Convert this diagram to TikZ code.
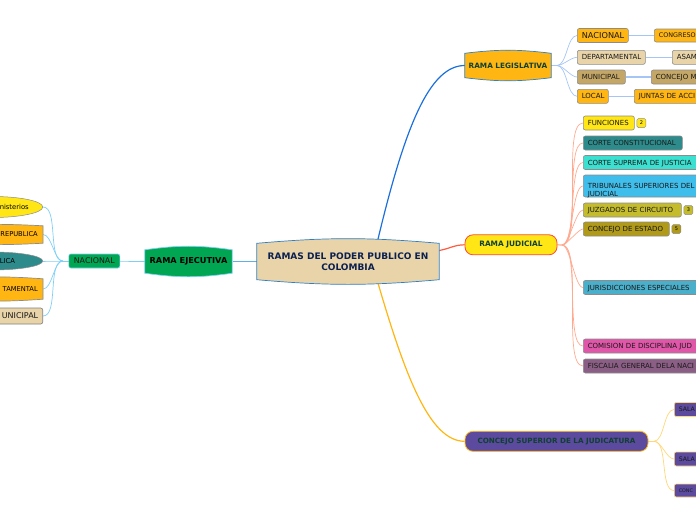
\documentclass[tikz,border=0pt]{standalone}
\usepackage{fontspec}
\setmainfont{DejaVu Sans}
\usetikzlibrary{positioning, shapes.geometric, backgrounds}

\definecolor{sand}{HTML}{E8D4A8}
\definecolor{amber}{HTML}{FFB612}
\definecolor{leafgreen}{HTML}{00A651}
\definecolor{lemon}{HTML}{FFE614}
\definecolor{teal1}{HTML}{2E8B8B}
\definecolor{turq}{HTML}{3CE0D0}
\definecolor{sky}{HTML}{3FBDEB}
\definecolor{olive1}{HTML}{C4BC2D}
\definecolor{olive2}{HTML}{B09A18}
\definecolor{steel}{HTML}{4AAFCB}
\definecolor{pink1}{HTML}{E056A8}
\definecolor{plum}{HTML}{8B5F85}
\definecolor{violet1}{HTML}{5B4A9E}
\definecolor{khaki}{HTML}{C4A766}
\definecolor{navy}{HTML}{0B2050}
\definecolor{pine}{HTML}{0F4030}
\definecolor{rimblue}{HTML}{2F7FC8}
\definecolor{legblue}{HTML}{1A6FDD}
\definecolor{skyline}{HTML}{7FD0F5}
\definecolor{legline}{HTML}{A5C6F5}
\definecolor{judline}{HTML}{FFAA90}
\definecolor{supline}{HTML}{FFD778}

\tikzset{
	leaf/.style 2 args={draw=black!45, line width=0.6pt, rounded corners=2pt, fill=#2, text=black!90,
		font=\fontsize{7}{8.2}\selectfont, anchor=west, inner sep=0pt, inner xsep=4.5pt, text depth=0pt,
		minimum height=14pt, minimum width=#1, text width=#1-9pt, align=left},
	barrel/.style 2 args={inner sep=0pt, minimum width=#1, minimum height=#2, align=center},
	pill/.style={draw=#1, line width=0.8pt, rounded corners=8pt, inner sep=0pt, minimum height=20pt},
	badge/.style={draw=black!45, line width=0.5pt, rounded corners=1.5pt, fill=#1, inner sep=0pt,
		minimum size=9pt, font=\fontsize{5}{5}\selectfont},
	lens/.style={ellipse, draw=black!45, fill=#1, line width=0.5pt, minimum width=100pt, inner sep=0pt,
		font=\fontsize{6.8}{8}\selectfont},
	branch/.style={draw=#1, line width=1.2pt},
	twig/.style={draw=#1, line width=0.7pt}
}

\begin{document}
\begin{tikzpicture}[x=1pt,y=-1pt]
	\useasboundingbox (0,0) rectangle (696,520);
	\clip (0,0) rectangle (696,520);

	%Zentrum
	\node (poder) [barrel={182pt}{36pt}, text=navy, font=\fontsize{9}{11.5}\selectfont\bfseries] at (348,261.5) {RAMAS DEL PODER PUBLICO EN\\COLOMBIA};

	%Rama legislativa
	\node (legis) [barrel={86pt}{24pt}, text=pine, font=\fontsize{7.3}{8}\selectfont\bfseries] at (508,65.5) {RAMA LEGISLATIVA};
	\node (lnac) [leaf={51pt}{amber}, font=\fontsize{8.2}{9}\selectfont] at (577,35.5) {NACIONAL};
	\node (ldep) [leaf={68pt}{sand}] at (577,57.3) {DEPARTAMENTAL};
	\node (lmun) [leaf={48pt}{khaki}] at (577,77) {MUNICIPAL};
	\node (lloc) [leaf={31pt}{amber}] at (577,96.3) {LOCAL};
	\node (lcon) [leaf={80pt}{amber}, minimum height=13pt, font=\fontsize{6.4}{8}\selectfont] at (654,35.5) {CONGRESO};
	\node (lasa) [leaf={60pt}{sand}] at (672,57.3) {ASAM};
	\node (lcmu) [leaf={80pt}{khaki}] at (651,77) {CONCEJO M};
	\node (ljun) [leaf={100pt}{amber}] at (634,96.3) {JUNTAS DE ACCI};

	%Rama judicial
	\node (judi) [pill=orange!20!red!80, fill=lemon, text=pine, minimum width=92pt, font=\fontsize{7.4}{8}\selectfont\bfseries] at (511,244.8) {RAMA JUDICIAL};
	\node (jfun) [leaf={51pt}{lemon}] at (583,123) {FUNCIONES};
	\node (jcor) [leaf={99pt}{teal1}] at (583,143) {CORTE CONSTITUCIONAL};
	\node (jsup) [leaf={160pt}{turq}] at (583,162.5) {CORTE SUPREMA DE JUSTICIA};
	\node (jtri) [leaf={160pt}{sky}, minimum height=22pt] at (583,186) {TRIBUNALES SUPERIORES DEL\\JUDICIAL};
	\node (jjuz) [leaf={98pt}{olive1}] at (583,210) {JUZGADOS DE CIRCUITO};
	\node (jest) [leaf={86pt}{olive2}] at (583,229) {CONCEJO DE ESTADO};
	\node (jesp) [leaf={160pt}{steel}] at (583,287.5) {JURISDICCIONES ESPECIALES};
	\node (jdis) [leaf={160pt}{pink1}] at (583,346) {COMISION DE DISCIPLINA JUD};
	\node (jfis) [leaf={160pt}{plum}] at (583,366) {FISCALIA GENERAL DELA NACI};
	\node (bfun) [badge=lemon, right=2pt of jfun] {2};
	\node (bjuz) [badge=olive1, right=2pt of jjuz] {3};
	\node (best) [badge=olive2, right=2pt of jest] {5};

	%Concejo superior
	\node (conc) [pill=amber, fill=violet1, text=pine, minimum width=183pt, font=\fontsize{7.2}{8}\selectfont\bfseries] at (556.5,441.3) {CONCEJO SUPERIOR DE LA JUDICATURA};
	\node (csa1) [leaf={40pt}{violet1}, draw=supline, font=\fontsize{6.2}{8}\selectfont] at (674,409.5) {SALA};
	\node (csa2) [leaf={40pt}{violet1}, draw=supline, font=\fontsize{6.2}{8}\selectfont] at (674,459) {SALA};
	\node (csa3) [leaf={40pt}{violet1}, draw=supline, minimum height=13pt, font=\fontsize{4.8}{6}\selectfont] at (674,490.5) {CONC};

	%Rama ejecutiva
	\node (ejec) [barrel={87pt}{23pt}, text=black, font=\fontsize{8.2}{9}\selectfont\bfseries] at (188.5,261.5) {RAMA EJECUTIVA};
	\node (enac) [leaf={51pt}{leafgreen}, draw=skyline, font=\fontsize{7.9}{9}\selectfont, align=center] at (68.5,261) {NACIONAL};
	\node (emin) [lens=lemon, minimum height=21pt, anchor=east] at (43,207) {\makebox[0pt][l]{\hspace{7pt}nisterios}};
	\node (erep) [barrel={93pt}{17pt}, anchor=east, text width=83pt, align=right, font=\fontsize{6.7}{8}\selectfont] at (43,234.5) {REPUBLICA};
	\node (elic) [lens=teal1, minimum height=18pt, anchor=east] at (43,261) {\makebox[0pt][l]{\hspace{7pt}LICA}};
	\node (etam) [barrel={93pt}{20pt}, anchor=east, text width=83pt, align=right, font=\fontsize{6.7}{8}\selectfont] at (43,289) {TAMENTAL};
	\node (emun) [leaf={93pt}{sand}, draw=black!50, anchor=east, text width=88pt, align=right, minimum height=16pt, font=\fontsize{8}{8}\selectfont] at (43,316) {UNICIPAL};

	%Kanten
	\begin{scope}[on background layer]
		\coordinate (plegis) at ([xshift=29pt]poder.north);
		\coordinate (pconc) at ([xshift=29pt]poder.south);
		\coordinate (pjudi) at ([yshift=11pt]poder.east);
		\draw[branch=legblue] (plegis) .. controls +(28,-118) and +(-35,0) .. (legis.west);
		\draw[branch=amber] (pconc) .. controls +(28,96) and +(-35,0) .. (conc.west);
		\path[branch=orange!30!red!75] (pjudi) edge[out=10,in=180] (judi.west);
		\path[branch=skyline!60!rimblue] (poder.west) edge ([xshift=1pt]ejec.east);
		\path[twig=skyline] (ejec.west) edge (enac.west);

		\coordinate (fanl) at (557,65.5);
		\coordinate (fanj) at (562,245);
		\coordinate (fanc) at (654,441.3);
		\coordinate (fane) at (63,261);
		\path[twig=legline] (legis.east) edge (fanl);
		\path[branch=judline] (judi.east) edge (fanj);
		\path[twig=supline] (conc.east) edge (fanc);
		\path[twig=skyline] (enac.west) edge (fane);

		\foreach \kid in {lnac,ldep,lmun,lloc}
			\path[twig=legline] (fanl) edge[out=0,in=180,looseness=0.7] (\kid.west);
		\path[twig=legline, line width=1.2pt] (lnac) edge (lcon) (ldep) edge (lasa) (lmun) edge (lcmu) (lloc) edge (ljun);
		\foreach \kid in {jfun,jcor,jsup,jtri,jjuz,jest,jesp,jdis,jfis}
			\path[twig=judline] (fanj) edge[out=0,in=180,looseness=0.45] (\kid.west);
		\foreach \kid in {csa1,csa2,csa3}
			\path[twig=supline] (fanc) edge[out=0,in=180,looseness=0.7] (\kid.west);
		\foreach \kid in {emin,erep,elic,etam,emun}
			\path[twig=skyline] (fane) edge[out=180,in=0,looseness=0.7] (\kid.east);

		%Tonnen
		\foreach \n/\b/\c/\e in {poder/5/sand/rimblue, legis/7/amber/rimblue, ejec/8/leafgreen/skyline, erep/3/amber/black!45, etam/4/amber/black!45}
			\filldraw[draw=\e, fill=\c, line width=0.7pt]
			(\n.north west) to[bend left=\b] (\n.north east) -- (\n.south east) to[bend left=\b] (\n.south west) -- cycle;
	\end{scope}

\end{tikzpicture}
\end{document}
